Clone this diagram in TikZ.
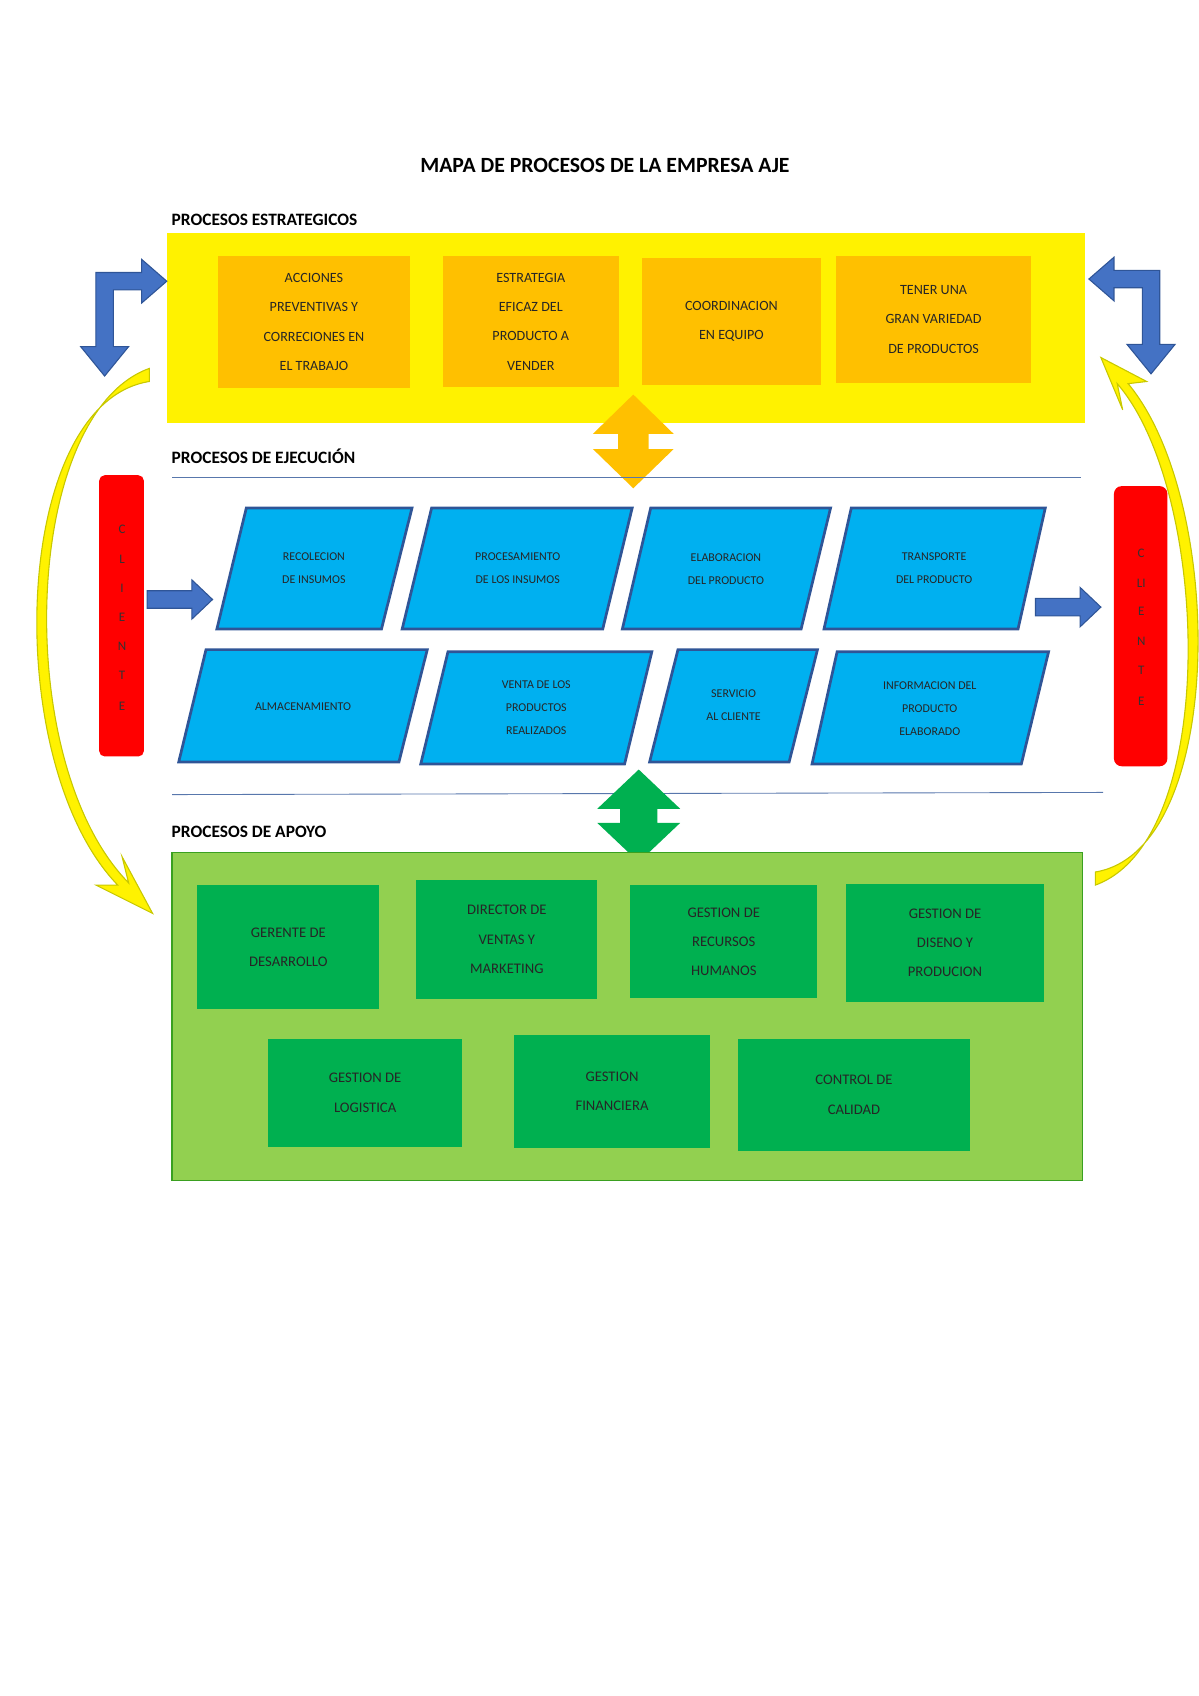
\documentclass[tikz,border=0pt]{standalone}
\usepackage{fontspec}
\setmainfont{Carlito}
\begin{document}
\begin{tikzpicture}[x=1bp,y=-1bp,
 txt/.style={align=center,text=black!85},
 obox/.style={fill=orangebox,draw=none,txt,font=\fontsize{13}{27}\selectfont},
 gbox/.style={fill=greenbox,draw=none,txt,font=\fontsize{13.5}{27}\selectfont},
 par/.style={fill=cyanbox,draw=darkblue,line width=2.5bp,line join=miter},
 ptxt/.style={txt,font=\fontsize{11}{21}\selectfont},
 head/.style={font=\bfseries\fontsize{16}{19}\selectfont,anchor=west},
 blue/.style={fill=bluearrow,draw=darkblue,line width=1bp},
 cl/.style={font=\fontsize{12}{14}\selectfont,text=black!80}]
\definecolor{orangebox}{HTML}{FFC000}
\definecolor{greenbox}{HTML}{00B050}
\definecolor{cyanbox}{HTML}{00B0F0}
\definecolor{darkblue}{HTML}{2F5597}
\definecolor{bluearrow}{HTML}{4472C4}
\definecolor{lightgreen}{HTML}{92D050}
\definecolor{olive}{HTML}{C8C800}
\useasboundingbox (0,0) rectangle (1100,1556);
\node[font=\bfseries\fontsize{20}{24}\selectfont] (title) at (555,152) {MAPA DE PROCESOS DE LA EMPRESA AJE};
\node[head] (h1) at (154,202) {PROCESOS ESTRATEGICOS};
\fill[yellow] (153,214) rectangle (995,388);
\node[obox,minimum width=176bp,minimum height=121bp] (o1) at (288,295.5) {ACCIONES\\PREVENTIVAS Y\\CORRECIONES EN\\EL TRABAJO};
\node[obox,minimum width=162bp,minimum height=120bp] (o2) at (487,295) {ESTRATEGIA\\EFICAZ DEL\\PRODUCTO A\\VENDER};
\node[obox,minimum width=164bp,minimum height=116bp] (o3) at (671,295) {COORDINACION\\EN EQUIPO};
\node[obox,minimum width=179bp,minimum height=116bp] (o4) at (856.5,293) {TENER UNA\\GRAN VARIEDAD\\DE PRODUCTOS};
% orange double arrow
\fill[orangebox] (581,362)--(618,398)--(595,398)--(595,412)--(618,412)--(581,448)--(544,412)--(567,412)--(567,398)--(544,398)--cycle;
\node[head] (h2) at (154,419) {PROCESOS DE EJECUCIÓN};
\draw[darkblue!80,line width=0.8bp] (158,438)--(992,438);
% parallelograms
\draw[par] (226,466)--(378,466)--(350,577)--(199,577)--cycle;
\node[ptxt] (p1) at (288,521) {RECOLECION\\DE INSUMOS};
\draw[par] (396,466)--(580,466)--(553,577)--(369,577)--cycle;
\node[ptxt] (p2) at (475,521) {PROCESAMIENTO\\DE LOS INSUMOS};
\draw[par] (597,466)--(762,466)--(735,577)--(571,577)--cycle;
\node[ptxt] (p3) at (666,522) {ELABORACION\\DEL PRODUCTO};
\draw[par] (781,466)--(959,466)--(934,577)--(756,577)--cycle;
\node[ptxt] (p4) at (857,521) {TRANSPORTE\\DEL PRODUCTO};
\draw[par] (189,596)--(392,596)--(366,699)--(164,699)--cycle;
\node[ptxt] (p5) at (278,648) {ALMACENAMIENTO};
\draw[par] (411,598)--(598,598)--(573,701)--(386,701)--cycle;
\node[ptxt] (p6) at (492,649) {VENTA DE LOS\\PRODUCTOS\\REALIZADOS};
\draw[par] (622,596)--(750,596)--(724,699)--(596,699)--cycle;
\node[ptxt] (p7) at (673,647) {SERVICIO\\AL CLIENTE};
\draw[par] (768,598)--(962,598)--(937,701)--(745,701)--cycle;
\node[ptxt] (p8) at (853,650) {INFORMACION DEL\\PRODUCTO\\ELABORADO};
\draw[darkblue!80,line width=0.8bp] (158,729)--(1012,727);
% green double arrow
\fill[greenbox] (586,706)--(624,742)--(603,742)--(603,755)--(624,755)--(586,791)--(548,755)--(569,755)--(569,742)--(548,742)--cycle;
\node[head] (h3) at (154,763) {PROCESOS DE APOYO};
\draw[fill=lightgreen,draw=green!50!black!60!lightgreen,line width=1.5bp] (158,782) rectangle (993,1083);
\node[gbox,minimum width=167bp,minimum height=114bp] (g1) at (264.5,869) {GERENTE DE\\DESARROLLO};
\node[gbox,minimum width=166bp,minimum height=109bp] (g2) at (465,862) {DIRECTOR DE\\VENTAS Y\\MARKETING};
\node[gbox,minimum width=172bp,minimum height=104bp] (g3) at (664,864) {GESTION DE\\RECURSOS\\HUMANOS};
\node[gbox,minimum width=182bp,minimum height=108bp] (g4) at (867,865) {GESTION DE\\DISENO Y\\PRODUCION};
\node[gbox,minimum width=178bp,minimum height=99bp] (g5) at (335,1002.5) {GESTION DE\\LOGISTICA};
\node[gbox,minimum width=179bp,minimum height=103bp] (g6) at (561.5,1001.5) {GESTION\\FINANCIERA};
\node[gbox,minimum width=213bp,minimum height=103bp] (g7) at (783.5,1004.5) {CONTROL DE\\CALIDAD};
% clients
\fill[red,rounded corners=5bp] (91,436) rectangle (132,694);
\foreach \l/\y in {C/486,L/513,I/540,E/566,N/593,T/620,E/648} \node[cl] at (112,\y) {\l};
\fill[red,rounded corners=7bp] (1022,446) rectangle (1071,703);
\foreach \l/\y in {C/508,LI/535,E/561,N/588,T/615,E/643} \node[cl] at (1047,\y) {\l};
\node (cL) at (112,565) {}; \node (cR) at (1047,575) {};
% straight blue arrows
\draw[blue] (135,542)--(176,542)--(176,532)--(195,550)--(176,568)--(176,558)--(135,558)--cycle;
\draw[blue] (950,549)--(991,549)--(991,539)--(1010,557)--(991,575)--(991,565)--(950,565)--cycle;
% bent blue arrows
\draw[blue] (88,318)--(88,250)--(130,250)--(130,238)--(153,258)--(130,278)--(130,266)--(104,266)--(104,318)--(118,318)--(96,345)--(74,318)--cycle;
\draw[blue] (1064,316)--(1064,248)--(1022,248)--(1022,236)--(999,256)--(1022,276)--(1022,264)--(1048,264)--(1048,316)--(1034,316)--(1056,343)--(1078,316)--cycle;
% yellow curved arrows
\fill[yellow,draw=olive,line width=1bp] (137,338) .. controls (20,380) and (10,700) .. (118,810) -- (112,786) -- (140,838) -- (88,812) -- (108,812) .. controls (0,700) and (10,370) .. (137,350) -- cycle;
\fill[yellow,draw=olive,line width=1bp] (1005,812) .. controls (1120,770) and (1110,450) .. (1025,352) -- (1030,376) -- (1010,328) -- (1052,350) -- (1035,352) .. controls (1125,460) and (1125,780) .. (1005,800) -- cycle;
\end{tikzpicture}
\end{document}
